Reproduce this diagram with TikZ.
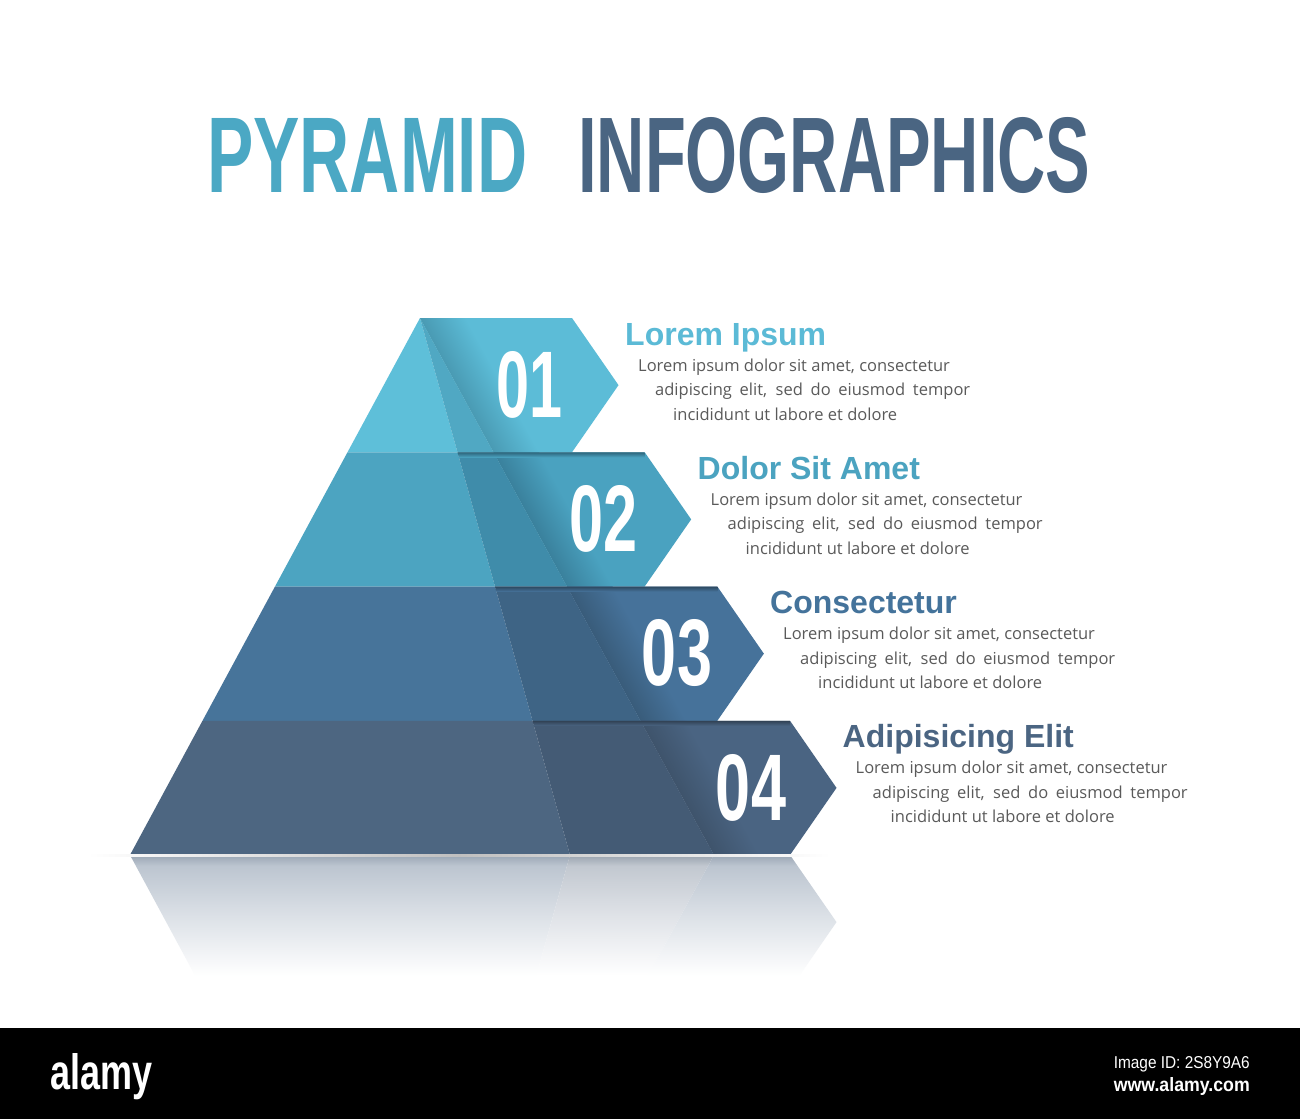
\documentclass[tikz,border=0pt]{standalone}
\usepackage{fontspec}
\usepackage{graphicx}
\setmainfont{Liberation Sans}
\newfontfamily\bodyfont{Open Sans}
\usetikzlibrary{calc}
\definecolor{f1}{HTML}{5EBFD9}\definecolor{s1}{HTML}{50A8C3}\definecolor{b1}{HTML}{5CBCD7}
\definecolor{f2}{HTML}{4CA4C1}\definecolor{s2}{HTML}{3F8CAA}\definecolor{b2}{HTML}{4AA2C0}
\definecolor{f3}{HTML}{47749A}\definecolor{s3}{HTML}{3E6485}\definecolor{b3}{HTML}{46729A}
\definecolor{f4}{HTML}{4D6681}\definecolor{s4}{HTML}{445B75}\definecolor{b4}{HTML}{4A6482}
\definecolor{tA}{HTML}{4BA8C4}\definecolor{tB}{HTML}{4A6582}
\definecolor{h1}{HTML}{5BBAD6}\definecolor{h2}{HTML}{4BA3C0}\definecolor{h3}{HTML}{44739B}\definecolor{h4}{HTML}{4B6582}
\definecolor{bodygray}{HTML}{5A5A5A}
\definecolor{rfs}{HTML}{9AA6B4}\definecolor{rft}{HTML}{BCC5D0}\definecolor{rfm}{HTML}{DCE1E7}
\definecolor{rss}{HTML}{98A2AE}\definecolor{rst}{HTML}{C2C8D0}\definecolor{rsm}{HTML}{E0E3E8}
\pgfdeclareverticalshading{reflfront}{100bp}{color(0bp)=(white); color(30bp)=(white); color(52bp)=(rfm); color(71bp)=(rft); color(75bp)=(rfs); color(100bp)=(rfs)}
\pgfdeclareverticalshading{reflstrip}{100bp}{color(0bp)=(white); color(30bp)=(white); color(52bp)=(rsm); color(71bp)=(rst); color(75bp)=(rss); color(100bp)=(rss)}
\tikzset{
  headtxt/.style={anchor=base west, inner sep=0pt, font=\bfseries\fontsize{32}{32}\selectfont},
  bodytxt/.style={anchor=base west, inner sep=0pt, text=bodygray, font=\bodyfont\fontsize{16.5}{16.5}\selectfont},
  numtxt/.style={anchor=center, inner sep=0pt, text=white, font=\bfseries},
}
\begin{document}
\begin{tikzpicture}[x=1pt,y=-1pt]
\useasboundingbox (0,0) rectangle (1300,1119);
\fill[white] (0,0) rectangle (1300,1119);
% title
\node[anchor=base west, inner sep=0pt, text=tA] (title1) at (207,192) {\resizebox{320pt}{74pt}{\bfseries PYRAMID}};
\node[anchor=base west, inner sep=0pt, text=tB] (title2) at (578,192) {\resizebox{512pt}{75pt}{\bfseries INFOGRAPHICS}};
% reflection
\shade[shading=reflfront] (130,855) -- (570,855) -- (532.5,989.25) -- (202.5,989.25) -- cycle;
\shade[shading=reflstrip] (570,855) -- (714,855) -- (640.5,989.25) -- (532.5,989.25) -- cycle;
\shade[shading=reflfront] (714,855) -- (790,855) -- (836.5,922.1) -- (790,989.25) -- (640.5,989.25) -- cycle;
% pyramid bands
\foreach \k/\cf/\cs/\ct in {0/f1/s1/b1,1/f2/s2/b2,2/f3/s3/b3,3/f4/s4/b4}{
  \pgfmathsetmacro\yt{318+134.25*\k}
  \pgfmathsetmacro\yb{\yt+134.25}
  \pgfmathsetmacro\ym{\yt+67.125}
  \pgfmathsetmacro\lt{420-0.54004*(\yt-318)}
  \pgfmathsetmacro\lb{420-0.54004*(\yb-318)}
  \pgfmathsetmacro\rt{420+0.27933*(\yt-318)}
  \pgfmathsetmacro\rb{420+0.27933*(\yb-318)}
  \pgfmathsetmacro\ft{420+0.5475*(\yt-318)}
  \pgfmathsetmacro\fb{420+0.5475*(\yb-318)}
  \pgfmathsetmacro\xr{572+72.67*\k}
  \pgfmathsetmacro\xp{\xr+46.5}
  \fill[\cf] (\lt,\yt) -- (\rt,\yt) -- (\rb,\yb) -- (\lb,\yb) -- cycle;
  \fill[\cs] (\rt,\yt) -- (\ft,\yt) -- (\fb,\yb) -- (\rb,\yb) -- cycle;
  \fill[\ct] (\ft,\yt) -- (\xr,\yt) -- (\xp,\ym) -- (\xr,\yb) -- (\fb,\yb) -- cycle;
  \begin{scope}
    \clip (\ft,\yt) -- (\xr,\yt) -- (\xp,\ym) -- (\xr,\yb) -- (\fb,\yb) -- cycle;
    \shade[transform canvas={shift={(\ft,\yt)},rotate=28.7}, left color=\cs!92!black, right color=\ct] (0,-20) rectangle (40,320);
  \end{scope}
  \ifnum\k>0
  \begin{scope}
    \clip (\rt,\yt) -- (\xr,\yt) -- (\xp,\ym) -- (\xr,\yb) -- (\rb,\yb) -- cycle;
    \shade[top color=\cs!72!black, bottom color=\ct] (\rt,\yt) rectangle (\xr,\yt+5);
  \end{scope}
  \fi
}
% ground line
\shade[left color=white, right color=white, middle color=black!25] (88,854) rectangle (830,856.5);
% numbers
\node[numtxt] (n1) at (529.5,385) {\resizebox{66pt}{66pt}{01}};
\node[numtxt] (n2) at (604,519) {\resizebox{68pt}{66pt}{02}};
\node[numtxt] (n3) at (677,653) {\resizebox{70pt}{66pt}{03}};
\node[numtxt] (n4) at (751,788) {\resizebox{70pt}{66pt}{04}};
% text blocks
\node[headtxt, text=h1] (hA) at (625,345) {Lorem Ipsum};
\node[headtxt, text=h2] (hB) at (697.5,479.25) {Dolor Sit Amet};
\node[headtxt, text=h3] (hC) at (770,613.5) {Consectetur};
\node[headtxt, text=h4] (hD) at (842.5,747.75) {Adipisicing Elit};
\foreach \k/\nm in {0/A,1/B,2/C,3/D}{
  \node[bodytxt] (l1\nm) at (638+72.5*\k,371+134.25*\k) {Lorem ipsum dolor sit amet, consectetur};
  \node[bodytxt] (l2\nm) at (655+72.5*\k,395.5+134.25*\k) {\makebox[315pt][s]{adipiscing elit, sed do eiusmod tempor}};
  \node[bodytxt] (l3\nm) at (673+72.5*\k,420+134.25*\k) {incididunt ut labore et dolore};
}
% bottom bar
\fill[black] (0,1028) rectangle (1300,1119);
\node[anchor=base west, inner sep=0pt, text=white] (alamy) at (50,1089) {\resizebox{102pt}{36pt}{\bfseries alamy}};
\node[anchor=base east, inner sep=0pt, text=white] (imgid) at (1250,1068) {\resizebox{136pt}{12pt}{Image ID: 2S8Y9A6}};
\node[anchor=base east, inner sep=0pt, text=white] (www) at (1250,1091) {\resizebox{136pt}{14pt}{\bfseries www.alamy.com}};
\end{tikzpicture}
\end{document}
